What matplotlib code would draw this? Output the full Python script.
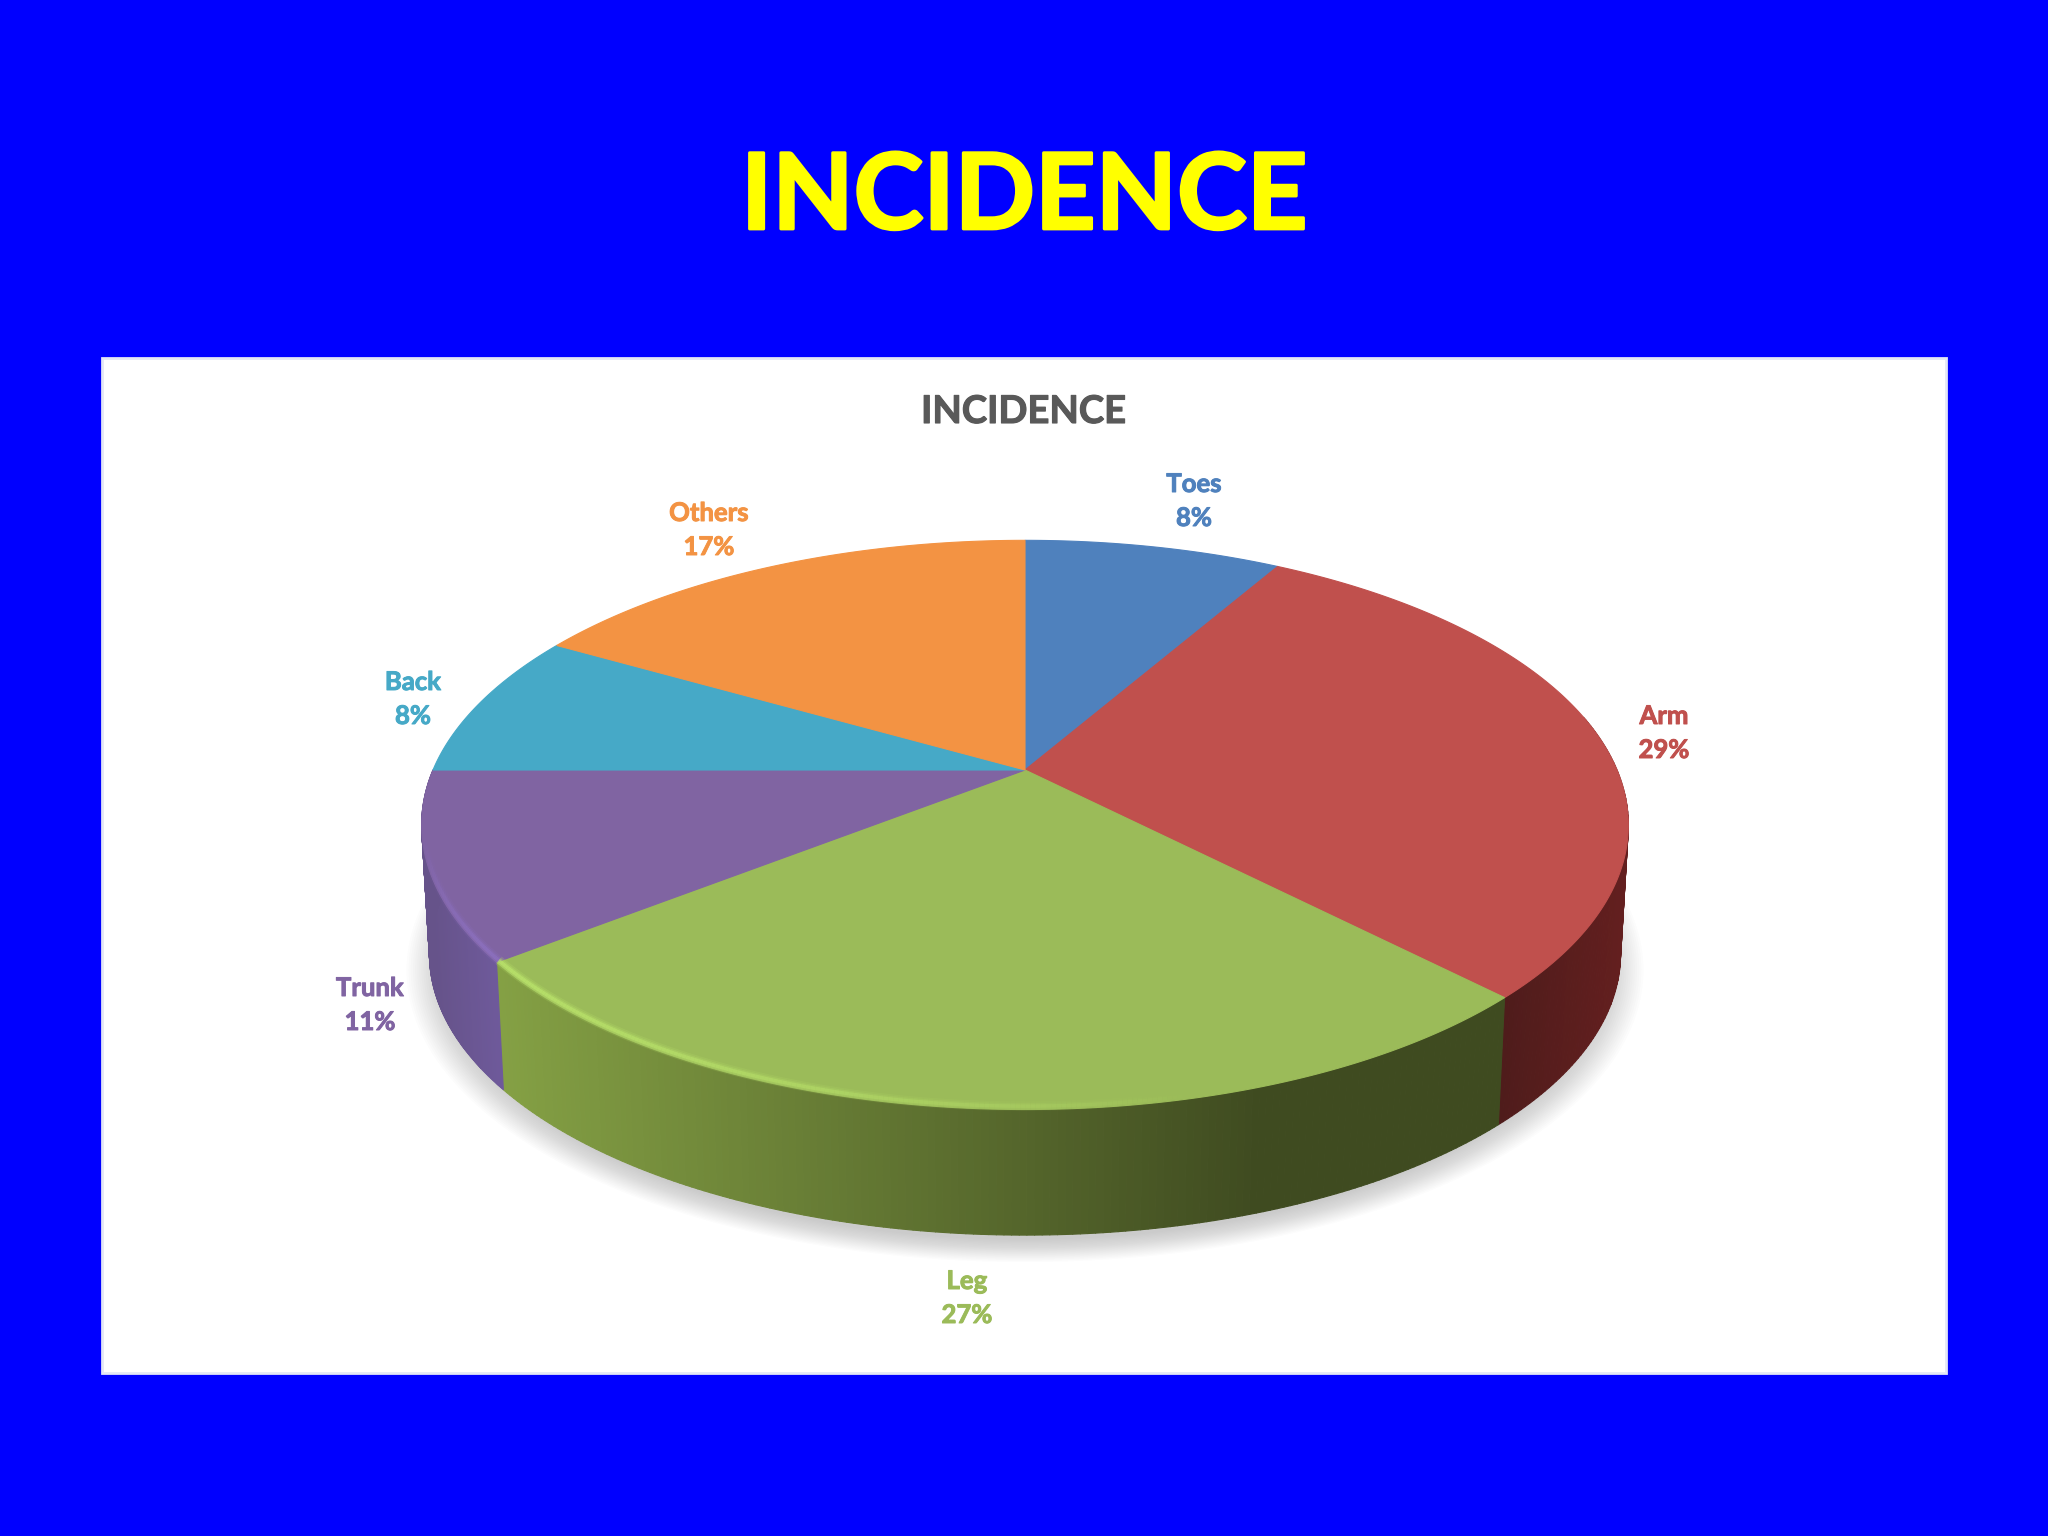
import numpy as np
import matplotlib
matplotlib.use("Agg")
import matplotlib.pyplot as plt
import matplotlib.patheffects as pe
from matplotlib.collections import PolyCollection, LineCollection
from matplotlib.colors import to_rgb
from matplotlib.patches import Rectangle, Polygon

# ---- data ----
categories = ["Toes", "Arm", "Leg", "Trunk", "Back", "Others"]
shares = [8.3, 29.4, 26.7, 10.6, 8.3, 16.7]
top_colors = ["#4f81bd", "#c0504d", "#9bbb59", "#8064a2", "#46a9c7", "#f39343"]
title_text = "INCIDENCE"

# ---- layout (pixels of the 2048x1536 canvas) ----
label_xy = [(1194, 501), (1664, 733), (967, 1298), (370, 1005), (413, 699), (709, 530)]
CX, CY, A, B, K = 1025, 770, 592, 274, 0.193
DEPTH = 130
BASE_SCALE = 0.987
FONT = "Lato"

fig = plt.figure(figsize=(20.48, 15.36), dpi=100, facecolor="#0000ff")
ax = fig.add_axes([0, 0, 1, 1])
ax.set_xlim(0, 2048)
ax.set_ylim(1536, 0)
ax.axis("off")


def project(theta):
    """Angle clockwise from 12 o'clock -> canvas pixel on the perspective disc rim."""
    u, v = np.sin(theta), np.cos(theta)
    w = 1 + K * v
    return CX + A * u / w, CY - B * v / w


def base(x, y):
    """Rim point -> matching point on the lower rim of the disc."""
    return CX + (x - CX) * BASE_SCALE, CY + (y - CY) * BASE_SCALE + DEPTH


ax.add_patch(Rectangle((102, 358), 1844, 1015, fc="white", ec="#e3e7f6", lw=2, zorder=1))

# soft shadow below the disc
full = np.linspace(0, 2 * np.pi, 361)
sx, sy = project(full)
for i in range(20):
    f = 1.025 - i * 0.0035
    pts = np.c_[CX + (sx - CX) * f, CY + DEPTH + 14 + (sy - CY) * f]
    ax.add_patch(Polygon(pts, closed=True, fc="#777777", ec="none", alpha=0.018, zorder=2))

edges = np.cumsum([0] + shares) / sum(shares) * 2 * np.pi


def ramp(x, x0, x1, c0, c1):
    t = np.clip((x - x0) / (x1 - x0), 0, 1)
    a, b = np.array(to_rgb(c0)), np.array(to_rgb(c1))
    return a + (b - a) * t


side_fn = {
    "Leg": lambda x: ramp(x, 500, 1260, "#84a044", "#3f4b20"),
    "Trunk": lambda x: ramp(x, 430, 500, "#66538a", "#6f5a9c"),
    "Arm": lambda x: ramp(x, 1500, 1630, "#4e1c1b", "#641f1f"),
}

# side wall
for i, name in enumerate(categories):
    if name not in side_fn:
        continue
    th = np.linspace(edges[i], edges[i + 1], 160)
    th = th[np.cos(th) < 0.2]
    x, y = project(th)
    bx, by = base(x, y)
    quads = [[(x[j], y[j]), (x[j + 1], y[j + 1]), (bx[j + 1], by[j + 1]), (bx[j], by[j])]
             for j in range(len(x) - 1)]
    cols = [side_fn[name]((x[j] + x[j + 1]) / 2) for j in range(len(x) - 1)]
    ax.add_collection(PolyCollection(quads, facecolors=cols, edgecolors=cols, linewidths=0.8, zorder=3))

# top face
for i, col in enumerate(top_colors):
    th = np.linspace(edges[i], edges[i + 1], 200)
    x, y = project(th)
    pts = np.r_[[(CX, CY)], np.c_[x, y]]
    ax.add_patch(Polygon(pts, closed=True, fc=col, ec=col, lw=0.8, zorder=4))

# soft bevel highlight along the near rim
for name, hi, reach, strength in [("Leg", "#c2ee70", 700, 0.5), ("Trunk", "#9478d0", 0, 0.4)]:
    i = categories.index(name)
    th = np.linspace(edges[i], edges[i + 1], 240)
    x, y = project(th)
    x = CX + (x - CX) * 0.996
    y = CY + (y - CY) * 0.990
    segs = [[(x[j], y[j]), (x[j + 1], y[j + 1])] for j in range(len(x) - 1)]
    if name == "Leg":
        alpha = np.clip(1 - (x[:-1] - x.min()) / reach, 0, 1) ** 0.8
    else:
        alpha = np.clip((y[:-1] - 830) / 120, 0, 1)
    rgb = np.tile(np.array(to_rgb(hi)), (len(segs), 1))
    for lw, k in [(7, 0.35), (4.5, 0.55), (2.5, 1.0)]:
        rgba = np.c_[rgb, alpha * strength * k]
        ax.add_collection(LineCollection(segs, colors=rgba, linewidths=lw, zorder=5, capstyle="butt"))

# text
t = ax.text(1024, 199, title_text, color="#ffff00", fontsize=76, fontweight="bold",
            family=FONT, ha="center", va="center", zorder=6)
t.set_path_effects([pe.withStroke(linewidth=2.0, foreground="#ffff00")])
t = ax.text(1024, 412, title_text, color="#595959", fontsize=27.5, fontweight="bold",
            family=FONT, ha="center", va="center", zorder=6)
t.set_path_effects([pe.withStroke(linewidth=0.8, foreground="#595959")])
for name, val, col, (lx, ly) in zip(categories, shares, top_colors, label_xy):
    t = ax.text(lx, ly, f"{name}\n{round(val)}%", color=col, fontsize=18.5, fontweight="bold",
                family=FONT, ha="center", va="center", linespacing=1.5, zorder=6)
    t.set_path_effects([pe.withStroke(linewidth=0.7, foreground=col)])

fig.savefig("out.png", dpi=100, facecolor=fig.get_facecolor())
